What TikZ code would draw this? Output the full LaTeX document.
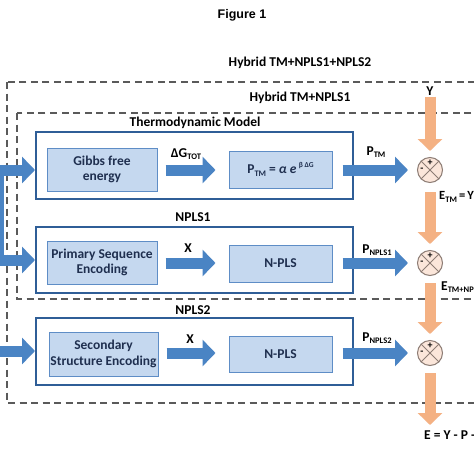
\documentclass[tikz,border=0pt]{standalone}
\usepackage{fontspec}
\setmainfont{Carlito}
\newfontfamily\arialfont{Liberation Sans}
\usetikzlibrary{arrows.meta}
\definecolor{arrowblue}{HTML}{4A84C4}
\definecolor{groupblue}{HTML}{2F5E97}
\definecolor{innerfill}{HTML}{C5D8EF}
\definecolor{innerdraw}{HTML}{5E8DC6}
\definecolor{boxtext}{HTML}{1F2F4F}
\definecolor{orangearr}{HTML}{F4B183}
\definecolor{circfill}{HTML}{FBE6DA}
\definecolor{circdraw}{HTML}{8C7C74}
\definecolor{dashgray}{HTML}{5A5A5A}
\newcommand{\lsub}[1]{\raisebox{-0.35ex}{\fontsize{8.5}{9}\selectfont #1}}
\tikzset{
  groupbox/.style={draw=groupblue, line width=2pt, fill=white, rectangle, inner sep=0pt},
  innerbox/.style={draw=innerdraw, line width=1pt, fill=innerfill, rectangle, inner sep=0pt,
    align=center, text=boxtext, font=\fontsize{13.5}{15.5}\selectfont\bfseries},
  dashbox/.style={draw=dashgray, line width=1.1pt, dash pattern=on 7pt off 4.5pt},
  bluearrow/.style={draw=arrowblue, line width=11pt, -{Triangle[length=13pt,width=26pt]}},
  orarrow/.style={draw=orangearr, line width=11pt, -{Triangle[length=12pt,width=24pt]}},
  sumnode/.style={circle, draw=circdraw, fill=circfill, line width=1pt, minimum size=25pt, inner sep=0pt},
  lbl/.style={font=\fontsize{13.5}{15.5}\selectfont\bfseries, text=black, inner sep=0pt},
  sgn/.style={font=\fontsize{10}{11}\selectfont\bfseries, text=black, inner sep=0pt}
}
\begin{document}
\begin{tikzpicture}[x=1pt,y=-1pt]
\useasboundingbox (0,0) rectangle (474,474);
\clip (0,0) rectangle (474,474);
\fill[white] (0,0) rectangle (474,474);

% title
\node[font=\arialfont\bfseries\fontsize{12.5}{14}\selectfont] (title) at (242,15) {Figure 1};

% dashed groups
\draw[dashbox] (7,82) rectangle (495,403);
\draw[dashbox] (17,113) rectangle (495,299);
\node[lbl] (hyb2) at (300,63) {Hybrid TM+NPLS1+NPLS2};
\node[lbl] (hyb1) at (300,98) {Hybrid TM+NPLS1};

% group boxes
\node[groupbox, minimum width=317pt, minimum height=67pt] (tm) at (194.5,165.5) {};
\node[groupbox, minimum width=317pt, minimum height=66pt] (np1) at (194.5,260) {};
\node[groupbox, minimum width=317pt, minimum height=67pt] (np2) at (194.5,351.5) {};
\node[lbl] (tmlab) at (195,123) {Thermodynamic Model};
\node[lbl] (np1lab) at (193,217) {NPLS1};
\node[lbl] (np2lab) at (193,310) {NPLS2};

% inner boxes
\node[innerbox, minimum width=110pt, minimum height=43pt] (gibbs) at (102,169.5) {Gibbs free\\energy};
\node[innerbox, minimum width=103pt, minimum height=37pt] (ptm) at (280.5,169.5)
  {P\lsub{TM} = {\itshape α e}\,\raisebox{0.9ex}{\fontsize{7.5}{8}\selectfont β ΔG}};
\node[innerbox, minimum width=110pt, minimum height=43pt] (prim) at (102,262.5) {Primary Sequence\\Encoding};
\node[innerbox, minimum width=103pt, minimum height=37pt] (npls1) at (280.5,263.5) {N-PLS};
\node[innerbox, minimum width=109pt, minimum height=44pt] (sec) at (103.5,354) {Secondary\\Structure Encoding};
\node[innerbox, minimum width=103pt, minimum height=36pt] (npls2) at (280.5,354) {N-PLS};

% summing junctions
\node[sumnode] (s1) at (430,170) {};
\node[sumnode] (s2) at (430,263) {};
\node[sumnode] (s3) at (430,353) {};
\foreach \s in {s1,s2,s3}{
  \draw[circdraw, line width=0.9pt] (\s.north east) -- (\s.south west) (\s.north west) -- (\s.south east);
  \node[sgn] at ([yshift=7pt]\s.center) {+};
  \node[sgn] at ([xshift=-8pt]\s.center) {-};
}

% left input arrows
\coordinate (in1) at (0,170);
\coordinate (in2) at (0,260);
\coordinate (in3) at (0,351);
\draw[draw=arrowblue, line width=4pt] (2,165) -- (2,265);
\draw[bluearrow] (in1) -- (tm.west |- in1);
\draw[bluearrow] (in2) -- (np1.west |- in2);
\draw[bluearrow] (in3) -- (np2.west |- in3);

% internal arrows
\draw[bluearrow, shorten <=8pt, shorten >=13pt] (gibbs.east |- 0,170) -- (ptm.west |- 0,170);
\draw[bluearrow, shorten <=8pt, shorten >=13pt] (prim.east |- 0,263) -- (npls1.west |- 0,263);
\draw[bluearrow, shorten <=8pt, shorten >=13pt] (sec.east |- 0,353) -- (npls2.west |- 0,353);
\node[lbl] (dg) at (186,154) {ΔG\lsub{TOT}};
\node[lbl] (x1) at (188,248) {X};
\node[lbl] (x2) at (190,339) {X};

% output arrows
\draw[bluearrow, shorten <=10pt, shorten >=9pt] (ptm.east |- s1) -- (s1.west);
\draw[bluearrow, shorten <=10pt, shorten >=9pt] (npls1.east |- s2) -- (s2.west);
\draw[bluearrow, shorten <=10pt, shorten >=9pt] (npls2.east |- s3) -- (s3.west);
\node[lbl] (ptml) at (376,152) {P\lsub{TM}};
\node[lbl] (pn1l) at (377,250) {P\lsub{NPLS1}};
\node[lbl] (pn2l) at (377,338) {P\lsub{NPLS2}};

% orange error path
\node[lbl] (Y) at (430,91) {Y};
\coordinate (eend) at (430,425);
\draw[orarrow, shorten <=1pt, shorten >=6pt] (Y.south) -- (s1.north);
\draw[orarrow, shorten <=9pt, shorten >=6pt] (s1.south) -- (s2.north);
\draw[orarrow, shorten <=7pt, shorten >=6pt] (s2.south) -- (s3.north);
\draw[orarrow, shorten <=7pt] (s3.south) -- (eend);
\node[lbl, anchor=west, font=\fontsize{12.5}{14}\selectfont\bfseries] (e1) at (439,197) {E\lsub{TM}\,=\,Y};
\node[lbl, anchor=west] (e2) at (441,287) {E\lsub{TM+NP}};
\node[lbl, anchor=west] (e3) at (424,435) {E = Y - P -};
\end{tikzpicture}
\end{document}
